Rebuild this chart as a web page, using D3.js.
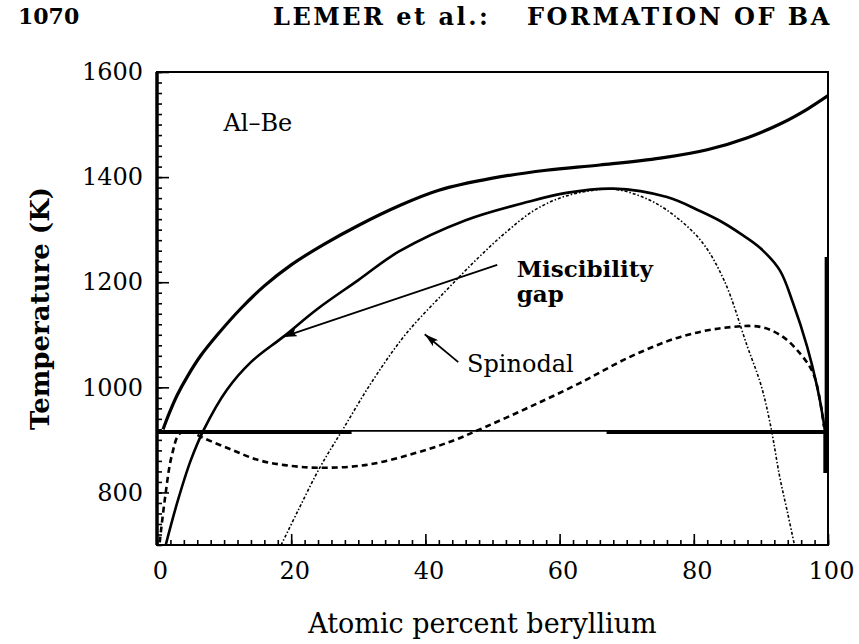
<!DOCTYPE html>
<html>
<head>
<meta charset="utf-8">
<script src="https://cdn.jsdelivr.net/npm/d3@7"></script>
<style>
    body { margin: 0; background: #fff; }
    svg { display: block; }
    text { font-family: "DejaVu Serif", "Liberation Serif", serif; fill: #000; }
</style>
</head>
<body>
<div id="chart"></div>
<script>
// Data: [atomic % Be, temperature K]
const liquidus = [[0.9, 920], [1.8, 950], [3, 985], [4.5, 1020], [6.5, 1060], [9, 1100], [12.5, 1150],
    [16, 1193], [20, 1233], [25, 1273], [30, 1308], [36, 1345], [42, 1375], [50, 1398], [58, 1413],
    [66, 1423], [75, 1436], [82, 1452], [88, 1475], [93, 1502], [97, 1530], [100, 1555]];

const miscibilityGap = [[1.3, 700], [3, 780], [5, 860], [7, 920], [10.4, 995], [14, 1048], [18.8, 1096],
    [24, 1150], [30, 1204], [36, 1258], [46, 1318], [55, 1352], [61, 1370], [68, 1378], [76, 1362],
    [81, 1335], [84, 1316], [87, 1292], [89.9, 1265], [92.8, 1223], [94.8, 1160], [96.9, 1077],
    [98.4, 1000], [99.3, 938], [99.7, 900]];

const spinodal = [[18.5, 700], [21, 765], [24.3, 848], [27.7, 920], [32, 1010], [37, 1100], [43, 1183],
    [48, 1248], [52, 1295], [56, 1335], [60, 1360], [64, 1373], [68, 1377], [72, 1364], [76, 1337],
    [81, 1280], [84.5, 1204], [88, 1077], [90, 1005], [91.4, 930], [92.8, 830], [94, 760], [95, 700]];

const dashedCurve = [[0.4, 705], [1.2, 790], [2.2, 870], [3.4, 912], [5, 915], [7, 903], [11, 882],
    [15, 862], [19, 852], [24, 847], [31, 852], [38, 873], [44, 898], [49, 925], [55.6, 963], [63, 1008],
    [70.5, 1058], [78, 1096], [84.4, 1113], [89.9, 1115], [93.3, 1096], [95.8, 1065], [97.3, 1039],
    [98, 1020], [98.8, 976], [99.4, 925]];

const eutecticT = 917;
const eutecticThick = [[0, 29], [67, 100]];
const beSolvus = [[99.8, 1248], [99.8, 913]];
const beLow = [[99.6, 919], [99.6, 837]];

const xMajor = [0, 20, 40, 60, 80, 100];
const yMajor = [800, 1000, 1200, 1400, 1600];

let margin = { top: 72, right: 31, bottom: 99, left: 157 };
let width = 859 - margin.left - margin.right;
let height = 644 - margin.top - margin.bottom;

let svg = d3.select("#chart")
    .append("svg")
    .attr("width", 859)
    .attr("height", 644);

// running header of the journal page
svg.append("text").attr("x", 18).attr("y", 24)
    .style("font-size", "22px").style("font-weight", "bold").text("1070");
svg.append("text").attr("x", 273).attr("y", 25)
    .style("font-size", "24px").style("font-weight", "bold")
    .style("letter-spacing", "2.5px")
    .text("LEMER et al.:");
svg.append("text").attr("x", 527).attr("y", 25)
    .style("font-size", "24px").style("font-weight", "bold")
    .style("letter-spacing", "2.5px")
    .text("FORMATION OF BA");

let g = svg.append("g")
    .attr("transform", `translate(${margin.left}, ${margin.top})`);

let x = d3.scaleLinear().domain([0, 100]).range([0, width]);
let y = d3.scaleLinear().domain([700, 1600]).range([height, 0]);

g.append("clipPath").attr("id", "plot-clip")
    .append("rect").attr("width", width).attr("height", height);

// minor ticks
g.append("g")
    .attr("transform", `translate(0, ${height})`)
    .call(d3.axisBottom(x).tickValues(d3.range(0, 101, 2)).tickSize(-5).tickFormat(""))
    .call(a => a.select(".domain").remove());
g.append("g")
    .call(d3.axisLeft(y).tickValues(d3.range(700, 1601, 20)).tickSize(-5).tickFormat(""))
    .call(a => a.select(".domain").remove());

// major ticks + labels
let xAxis = g.append("g")
    .attr("transform", `translate(0, ${height})`)
    .call(d3.axisBottom(x).tickValues(xMajor).tickSize(-11).tickPadding(17).tickFormat(d3.format("d")));
xAxis.select(".domain").remove();
xAxis.selectAll("text")
    .attr("dx", 3)
    .style("font-size", "24px")
    .style("font-family", "DejaVu Serif");

let yAxis = g.append("g")
    .call(d3.axisLeft(y).tickValues(yMajor).tickSize(-12).tickPadding(14).tickFormat(d3.format("d")));
yAxis.select(".domain").remove();
yAxis.selectAll("text")
    .style("font-size", "24px")
    .style("font-family", "DejaVu Serif");

g.selectAll(".tick line").attr("stroke", "#000").attr("stroke-width", 1.6);

// frame
g.append("rect")
    .attr("width", width).attr("height", height)
    .attr("fill", "none").attr("stroke", "#000").attr("stroke-width", 2);
g.append("line")
    .attr("x1", 0).attr("x2", 0).attr("y1", 0).attr("y2", height)
    .attr("stroke", "#000").attr("stroke-width", 3.5);

let line = d3.line()
    .x(d => x(d[0]))
    .y(d => y(d[1]))
    .curve(d3.curveCatmullRom.alpha(0.5));

let curves = g.append("g").attr("clip-path", "url(#plot-clip)");

// eutectic horizontal
curves.append("line")
    .attr("x1", x(0)).attr("x2", x(100))
    .attr("y1", y(eutecticT)).attr("y2", y(eutecticT))
    .attr("stroke", "#000").attr("stroke-width", 1.8);
curves.selectAll(".eut-thick")
    .data(eutecticThick)
    .enter().append("line")
    .attr("class", "eut-thick")
    .attr("x1", d => x(d[0])).attr("x2", d => x(d[1]))
    .attr("y1", y(eutecticT) + 1).attr("y2", y(eutecticT) + 1)
    .attr("stroke", "#000").attr("stroke-width", 4);

curves.append("path").datum(liquidus)
    .attr("d", line).attr("fill", "none")
    .attr("stroke", "#000").attr("stroke-width", 3.2);

curves.append("path").datum(miscibilityGap)
    .attr("d", line).attr("fill", "none")
    .attr("stroke", "#000").attr("stroke-width", 2.6);

curves.append("path").datum(spinodal)
    .attr("d", line).attr("fill", "none")
    .attr("stroke", "#000").attr("stroke-width", 1.6)
    .attr("stroke-dasharray", "3,2,1.5,2");

curves.append("path").datum(dashedCurve)
    .attr("d", line).attr("fill", "none")
    .attr("stroke", "#000").attr("stroke-width", 2.6)
    .attr("stroke-dasharray", "6,4");

// Be-side phase boundaries along the right edge
[beSolvus, beLow].forEach(seg => {
    g.append("line")
        .attr("x1", x(seg[0][0])).attr("x2", x(seg[1][0]))
        .attr("y1", y(seg[0][1])).attr("y2", y(seg[1][1]))
        .attr("stroke", "#000").attr("stroke-width", 4);
});

// arrows
svg.append("defs").append("marker")
    .attr("id", "arrow")
    .attr("viewBox", "0 0 14 8")
    .attr("refX", 14).attr("refY", 4)
    .attr("markerWidth", 14).attr("markerHeight", 8)
    .attr("markerUnits", "userSpaceOnUse")
    .attr("orient", "auto")
    .append("path")
    .attr("d", "M0,0 L14,4 L0,8 L3,4 Z")
    .attr("fill", "#000");

const arrows = [
    { from: [50.7, 1233], to: [18.8, 1096] },
    { from: [44.9, 1048], to: [39.9, 1101] }
];
g.selectAll(".arrow")
    .data(arrows)
    .enter().append("line")
    .attr("class", "arrow")
    .attr("x1", d => x(d.from[0])).attr("y1", d => y(d.from[1]))
    .attr("x2", d => x(d.to[0])).attr("y2", d => y(d.to[1]))
    .attr("stroke", "#000").attr("stroke-width", 1.8)
    .attr("marker-end", "url(#arrow)");

// labels
g.append("text")
    .attr("x", x(9.9)).attr("y", y(1488))
    .style("font-size", "24px")
    .text("Al–Be");

g.append("text")
    .attr("x", x(53.6)).attr("y", y(1210))
    .style("font-size", "23px").style("font-weight", "bold")
    .text("Miscibility");
g.append("text")
    .attr("x", x(53.6)).attr("y", y(1162))
    .style("font-size", "23px").style("font-weight", "bold")
    .text("gap");

g.append("text")
    .attr("x", x(46.2)).attr("y", y(1029))
    .style("font-size", "24px")
    .text("Spinodal");

// axis titles
svg.append("text")
    .attr("transform", `translate(49, ${margin.top + y(1150)}) rotate(-90)`)
    .attr("text-anchor", "middle")
    .style("font-size", "26px").style("font-weight", "bold")
    .text("Temperature (K)");

svg.append("text")
    .attr("x", margin.left + x(48.5)).attr("y", 633)
    .attr("text-anchor", "middle")
    .style("font-size", "27px")
    .text("Atomic percent beryllium");
</script>
</body>
</html>
